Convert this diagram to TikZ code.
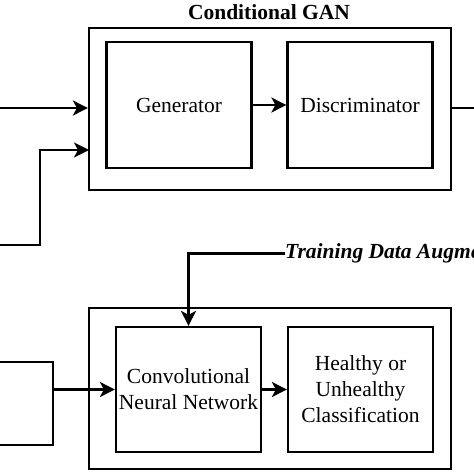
\documentclass[tikz,border=0pt]{standalone}
\usepackage{fontspec}
\setmainfont{Liberation Serif}
\usetikzlibrary{arrows.meta,positioning}

\begin{document}
\begin{tikzpicture}[x=1pt,y=-1pt,
  box/.style={draw,line width=2.2pt,minimum width=145pt,minimum height=126pt,inner sep=0pt,align=center,font=\rmfamily\fontsize{21.5}{26}\selectfont},
  frame/.style={draw,line width=2.2pt,minimum width=362pt,minimum height=162pt,inner sep=0pt},
  arr/.style={-{Stealth[length=15pt,width=15pt,inset=4pt]},line width=2.2pt}]
\useasboundingbox (0,0) rectangle (474,474);
\clip (0,0) rectangle (474,474);
% conditional GAN
\node[frame] (gan) at (270,109) {};
\node[font=\rmfamily\fontsize{21.5}{26}\selectfont\bfseries] (title) at (269,12) {Conditional GAN};
\node[box] (gen) at (179,105) {Generator};
\node[box] (disc) at (360,105) {Discriminator};
\coordinate (in1) at (0,108);
\coordinate (in2) at (0,245);
\coordinate (in2end) at (89,150);
\coordinate (out) at (474,108);
\draw[arr] (gen)--(disc);
\draw[arr] (in1)--(in1 -| gan.west);
\draw[arr] (in2)-|(40,200)|-(in2end);
\draw[line width=2.2pt] (gan.east |- out)--(out);
% classifier
\node[frame,minimum height=161pt] (cls) at (270,388.5) {};
\node[box,minimum height=125pt] (cnn) at (188.5,389.5) {Convolutional\\Neural Network};
\node[box,minimum height=125pt] (health) at (360.5,389.5) {Healthy or\\Unhealthy\\Classification};
\node[draw,line width=2.2pt,minimum width=66pt,minimum height=83pt] (data) at (20,403.5) {};
\node[font=\rmfamily\fontsize{21.5}{26}\selectfont\bfseries\itshape,anchor=west,inner sep=0pt] (aug) at (285,253) {Training Data Augmentation};
\draw[arr] (cnn.west -| data.east)--(cnn.west);
\draw[arr] (cnn)--(health);
\draw[arr,line width=3pt] (aug.west)-|(cnn.north);
\end{tikzpicture}
\end{document}
